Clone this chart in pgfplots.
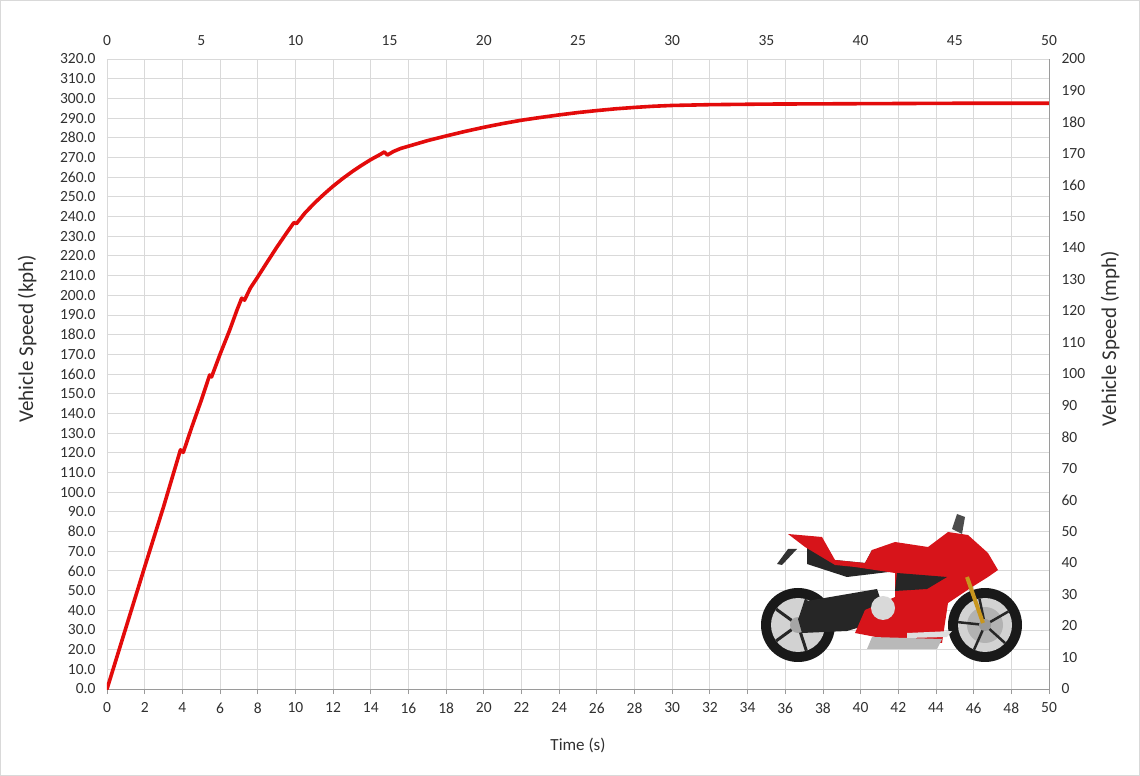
\documentclass[border=0pt]{standalone}
\usepackage{fontspec}
\setmainfont{Carlito}
\usepackage{pgfplots}
\pgfplotsset{compat=1.18}
\definecolor{gridc}{HTML}{D9D9D9}
\definecolor{txt}{HTML}{303030}
\definecolor{axc}{HTML}{9A9A9A}
\definecolor{curve}{HTML}{E30B0B}
\definecolor{bikered}{HTML}{D7141A}
\definecolor{gold}{HTML}{C8961E}
\begin{document}
\begin{tikzpicture}[x=1pt,y=1pt]
\useasboundingbox (-107,-87) rectangle (1033,689);
\draw[gridc,line width=1pt] (-106.5,-86.5) rectangle (1032.5,688.5);
\begin{axis}[
  at={(0,0)}, anchor=south west, name=ax,
  scale only axis, width=942pt, height=630pt,
  xmin=0, xmax=50, ymin=0, ymax=320,
  axis x line*=bottom, axis y line*=left,
  x axis line style={axc,-,line width=0.8pt},
  y axis line style={draw=none},
  xtick={0,2,...,50}, ytick={0,10,...,320},
  grid=major, major grid style={gridc,line width=0.8pt},
  tick align=outside, major tick length=5pt,
  xtick style={axc,line width=0.8pt}, ytick style={draw=none},
  /pgf/number format/assume math mode=true,
  tick label style={font=\fontsize{15.5}{18}\selectfont, text=txt},
  yticklabel style={xshift=-3pt, /pgf/number format/.cd, fixed, fixed zerofill, precision=1},
  xticklabel style={yshift=-5pt},
  xlabel={Time (s)}, ylabel={Vehicle Speed (kph)},
  xlabel style={font=\fontsize{17}{20}\selectfont, text=txt, at={(axis description cs:0.5,-0.0889)}, anchor=center},
  ylabel style={font=\fontsize{21}{24}\selectfont, text=txt, at={(axis description cs:-0.0849,0.556)}, anchor=center},
]
\addplot[curve, line width=3.6pt, line join=round, line cap=round] coordinates {
(0,0) (1,31) (2,62) (3,92.5) (3.9,121.5) (4.05,120.2) (4.5,133) (5,146.5)
(5.45,159.5) (5.55,158.5) (6,170) (6.5,182) (6.9,192.5) (7.15,198.5) (7.3,197.5)
(7.6,203.5) (8,209.3) (8.5,216.8) (9,224.2) (9.5,231.2) (9.92,236.9) (10.06,236.4)
(10.5,241.7) (11,246.7) (11.5,251.2) (12,255.4) (12.5,259.2) (13,262.7) (13.5,265.9)
(14,268.9) (14.5,271.5) (14.72,272.8) (14.88,271.2) (15.2,273) (15.6,274.6) (16,275.7)
(17,278.5) (18,280.9) (19,283.2) (20,285.3) (21,287.2) (22,288.9) (23,290.3)
(24,291.6) (25,292.8) (26,293.8) (27,294.7) (28,295.4) (29,296) (30,296.4) (32,296.8)
(35,297.1) (40,297.3) (45,297.5) (50,297.5)
};
\end{axis}
\begin{axis}[
  at={(0,0)}, anchor=south west,
  scale only axis, width=942pt, height=630pt,
  xmin=0, xmax=50, ymin=0, ymax=200,
  axis x line*=top, axis y line*=right,
  x axis line style={draw=none},
  y axis line style={axc,-,line width=0.8pt},
  xtick={0,5,...,50}, ytick={0,10,...,200},
  major tick length=0pt, tick style={draw=none},
  /pgf/number format/assume math mode=true,
  tick label style={font=\fontsize{15.5}{18}\selectfont, text=txt},
  xticklabel style={yshift=10pt},
  yticklabel style={xshift=9pt},
  ylabel={Vehicle Speed (mph)},
  ylabel style={font=\fontsize{21}{24}\selectfont, text=txt, at={(axis description cs:1.0648,0.556)}, anchor=center},
]
\end{axis}
% decorative motorcycle sketch
\begin{scope}
\fill[black!90] (691,64) circle (37);
\fill[gray!35] (691,64) circle (27);
\foreach \a in {0,72,144,216,288} \draw[black!85,line width=3pt] (691,64) -- ++(\a:27);
\fill[gray!70] (691,64) circle (8);
\fill[black!90] (878,64) circle (37);
\fill[gray!35] (878,64) circle (27);
\fill[gray!60] (878,64) circle (18);
\foreach \a in {30,102,174,246,318} \draw[black!85,line width=2.5pt] (878,64) -- ++(\a:27);
\fill[gray!80] (878,64) circle (6);
\fill[black!85] (691,70) -- (700,88) -- (770,100) -- (780,70) -- (740,58) -- (695,56) -- cycle;
\fill[black!85] (700,142) -- (728,129) -- (758,126) -- (765,139) -- (790,118) -- (740,112) -- (700,125) -- cycle;
\fill[black!80] (681,140) -- (670,125) -- (675,124) -- (690,140) -- cycle;
\fill[bikered] (681,155) -- (715,152) -- (728,129) -- (758,126) -- (765,139) -- (788,147)
  -- (821,142) -- (841,157) -- (861,154) -- (881,136) -- (891,119) -- (881,112)
  -- (865,102) -- (841,86) -- (835,46) -- (795,47) -- (748,56) -- (758,79)
  -- (788,92) -- (788,116) -- (748,122) -- (728,124) -- (698,142) -- cycle;
\fill[black!85] (790,116) -- (840,112) -- (820,100) -- (788,98) -- cycle;
\fill[gray!30] (776,81) circle (12);
\fill[gray!55] (760,40) -- (830,40) -- (835,50) -- (765,52) -- cycle;
\fill[gray!25] (800,56) -- (845,58) -- (840,52) -- (800,51) -- cycle;
\draw[gold,line width=4pt] (860,112) -- (876,66);
\fill[black!70] (845,160) -- (850,175) -- (858,172) -- (855,155) -- cycle;
\end{scope}
\end{tikzpicture}
\end{document}
